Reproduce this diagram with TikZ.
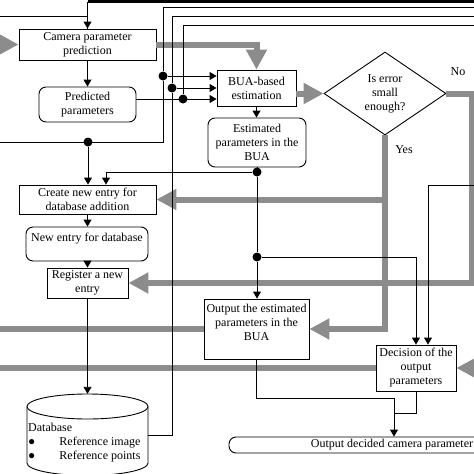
\documentclass[tikz,border=0pt]{standalone}
\usepackage{fontspec}
\setmainfont{Liberation Serif}
\usetikzlibrary{arrows.meta,shapes.geometric,calc}

\begin{document}
\begin{tikzpicture}[
                x=1pt, y=-1pt,
                font=\fontsize{12}{14}\selectfont,
                box/.style={
                        draw=black,
                        line width=0.9pt,
                        align=center,
                        inner sep=0pt
                    },
                rbox/.style={box, rounded corners=7pt},
                decision/.style={box, diamond, aspect=1.47},
                dot/.style={circle, fill=black, inner sep=0pt, minimum size=9pt},
                flow/.style={line width=0.9pt},
                arrow/.style={flow, -{Triangle[length=7pt,width=8pt]}},
                gflow/.style={line width=6pt, draw=black!45},
                garrow/.style={gflow, -{Triangle[length=20pt,width=20pt]}},
                lbl/.style={inner sep=0pt}
            ]

            \clip (0,0) rectangle (474,474);

            % Cajas
            \node[box, minimum width=137pt, minimum height=31pt] (cam) at (87.5,44.5) {Camera parameter\\prediction};
            \node[rbox, minimum width=97pt, minimum height=35pt] (pred) at (87.5,104.5) {Predicted\\parameters};
            \node[box, minimum width=79pt, minimum height=36pt] (bua) at (256.5,88) {BUA-based\\estimation};
            \node[rbox, minimum width=98pt, minimum height=49pt] (est) at (257,142.5) {Estimated\\parameters in the\\BUA};
            \node[decision, minimum width=122pt, minimum height=83pt] (err) at (385,93.5) {Is error\\small\\enough?};
            \node[box, minimum width=137pt, minimum height=29pt] (create) at (87.5,199.5) {Create new entry for\\database addition};
            \node[rbox, minimum width=122pt, minimum height=34pt] (entry) at (87,244) {New entry for database\\\mbox{}};
            \node[box, minimum width=81pt, minimum height=30pt] (reg) at (87.5,283) {Register a new\\entry};
            \node[box, minimum width=105pt, minimum height=60pt] (outest) at (256.5,329) {Output the estimated\\parameters in the\\BUA\\\mbox{}};
            \node[box, minimum width=80pt, minimum height=46pt] (dec) at (416,368) {Decision of the\\output\\parameters};
            \node[rbox, minimum width=326pt, minimum height=16pt] (outdec) at (392,445) {Output decided camera parameter};

            % Base de datos
            \node[inner sep=0pt, minimum width=121pt, minimum height=82pt] (db) at (87.5,435) {};
            \draw[flow] (87.5,406.5) ellipse [x radius=60.5pt, y radius=12.5pt];
            \draw[flow] (27,406.5) -- (27,463) arc [start angle=180, end angle=360, x radius=60.5pt, y radius=12.5pt] -- (148,406.5);
            \node[lbl, align=left, anchor=north west] (dbtxt) at (28,423) {Database\\●\hspace{24pt}Reference image\\●\hspace{24pt}Reference points};

            % Etiquetas
            \node[lbl] (yes) at (404,150) {Yes};
            \node[lbl] (no) at (458,72) {No};

            % Puntos de union
            \node[dot] (d1) at (163,76) {};
            \node[dot] (d2) at (172,88) {};
            \node[dot] (d3) at (183,99) {};
            \node[dot] (d4) at (88,142) {};
            \node[dot] (d5) at (257,172) {};
            \node[dot] (d6) at (257,257) {};

            % Extremos fuera del recorte
            \coordinate (inL) at (0,16);
            \coordinate (topR) at (474,1.5);
            \coordinate (inR1) at (474,7);
            \coordinate (inR2) at (474,16);
            \coordinate (inR3) at (474,25);
            \coordinate (inR4) at (474,185);
            \coordinate (outL1) at (0,142);
            \coordinate (gin) at (0,44.5);
            \coordinate (gout1) at (0,329);
            \coordinate (gout2) at (0,368);
            \coordinate (gin2) at (474,368);
            \coordinate (nocorner) at (472,283);
            \coordinate (join1) at (394,398);
            \coordinate (join2) at (394,413);

            % Flujo gris
            \draw[garrow] (gin) -- (cam.west);
            \draw[garrow] (cam.east) -| (bua.north);
            \draw[garrow] (bua.east |- err.west) -- (err.west);
            \draw[garrow] (err.east) -| (nocorner) -- (reg.east);
            \draw[garrow] (err.south) |- (outest.east);
            \draw[garrow] (err.south |- create.east) -- (create.east);
            \draw[gflow] (outest.west) -- (gout1);
            \draw[gflow] (dec.west) -- (gout2);
            \draw[garrow] (gin2) -- (dec.east);

            % Flujo negro
            \draw[flow, line width=2.2pt] (topR) -- (topR -| cam.north);
            \draw[arrow] (topR -| cam.north) -- (cam.north);
            \draw[flow] (inL) -| (cam.north);
            \draw[arrow] (cam) -- (pred);
            \draw[arrow] (pred.east |- d3) -- (bua.west |- d3);
            \draw[flow] (inR1) -| (d1) |- (outL1);
            \draw[arrow] (d1) -- (bua.west |- d1);
            \draw[flow] (inR2) -| (d2) |- (db.east);
            \draw[arrow] (d2) -- (bua.west |- d2);
            \draw[flow] (inR3) -| (d3);
            \draw[arrow] (d4) -- (create.north -| d4);
            \draw[arrow] (bua.south) -- (bua.south |- est.north);
            \draw[flow] (est.south -| d5) -- (d5);
            \draw[arrow] (d5) -| ($(create.north)+(18.5,0)$);
            \draw[flow] (d5) -- (d6);
            \draw[arrow] (d6) -- (d6 |- outest.north);
            \draw[arrow] (d6) -| (dec.north);
            \draw[arrow] (inR4) -| ($(dec.north)+(12,0)$);
            \draw[arrow] (create.south) -- (create.south |- entry.north);
            \draw[arrow] (entry.south -| reg.north) -- (reg.north);
            \draw[arrow] (reg.south) -- (reg.south |- db.north);
            \draw[arrow] (outest.south) |- (join1) -- (join1 |- outdec.north);
            \draw[flow] (dec.south) |- (join2);

        \end{tikzpicture}
\end{document}
